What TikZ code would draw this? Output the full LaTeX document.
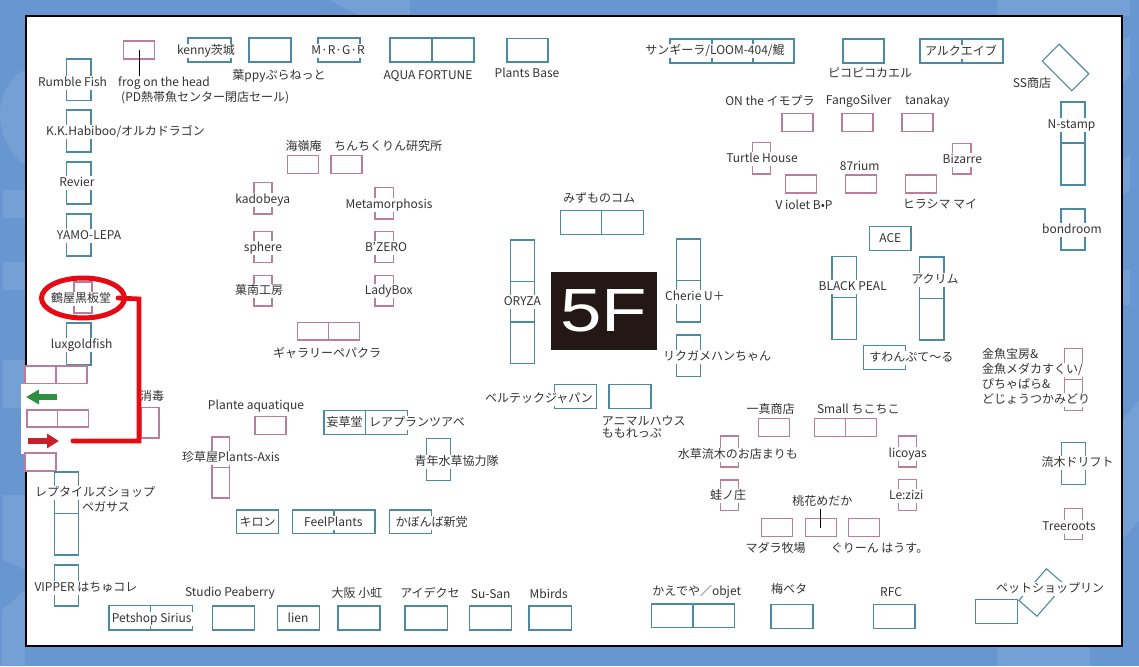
\documentclass[tikz,border=0pt]{standalone}
\usepackage{fontspec}
\setmainfont{Noto Sans CJK JP}
\newfontfamily\bigfont{Liberation Sans}
\usetikzlibrary{shapes.geometric,arrows.meta}
\definecolor{bgblue}{HTML}{6796D0}
\definecolor{bglight}{HTML}{75A0D6}
\definecolor{boothblue}{HTML}{4A8AA3}
\definecolor{boothpink}{HTML}{BC7C9A}
\definecolor{ovalred}{HTML}{E60A14}
\definecolor{exitgreen}{HTML}{2F8F3F}
\definecolor{entryred}{HTML}{C8202A}
\definecolor{signblack}{HTML}{231815}
\tikzset{
  bluebox/.style={draw=boothblue, line width=1.1pt, inner sep=0pt, outer sep=0pt},
  pinkbox/.style={draw=boothpink, line width=1.1pt, inner sep=0pt, outer sep=0pt},
  lbl/.style={fill=white, inner sep=1pt, yshift=-1pt, text=black!80, font=\fontsize{12}{14}\selectfont, text height=9.5pt, text depth=2.5pt},
  lblmulti/.style={inner sep=1pt, yshift=-1pt, text=black!80, font=\fontsize{12}{15}\selectfont, align=left},
  tagline/.style={draw=black, line width=1pt},
  routeline/.style={draw=ovalred, line width=4.8pt, line cap=round},
}
% corners of a booth: style, name, x0, y0, x1, y1
\def\booth(#1,#2,#3,#4,#5,#6){
  \node[#1, minimum width={(#5-#3)*1pt}, minimum height={(#6-#4)*1pt}] (#2) at ({(#3+#5)/2},{(#4+#6)/2}) {};
}
\def\lbl(#1,#2,#3,#4){
  \node[lbl] (#1) at (#2,#3) {#4};
}
\begin{document}
\begin{tikzpicture}[x=1pt,y=-1pt]
\useasboundingbox (0,0) rectangle (1139,666);
\fill[bgblue] (0,0) rectangle (1139,666);
% faint shapes behind the floor
\fill[bglight] (330,0) -- (410,0) -- (410,35) -- (395,35) -- cycle;
\fill[bglight] (3,190) rectangle (25,218);
\fill[bglight] (3,262) rectangle (25,290);
\fill[bglight] (3,360) rectangle (25,408);
\fill[bglight] (3,495) -- (25,495) -- (25,570) -- (3,560) -- cycle;
\fill[bglight] (2,610) -- (25,590) -- (25,666) -- (2,666) -- cycle;
\fill[bglight] (0,110) .. controls (3,90) and (12,75) .. (25,70) -- (25,165) .. controls (5,150) and (0,130) .. (0,110) -- cycle;
\fill[bglight] (997,0) rectangle (1130,16);
\fill[bglight] (997,646) rectangle (1090,666);
\fill[bglight] (1122,40) -- (1130,36) -- (1130,75) -- (1122,85) -- cycle;
\fill[bglight] (1122,160) -- (1130,155) -- (1130,190) -- (1122,195) -- cycle;
\fill[bglight] (1122,270) rectangle (1130,305);
\fill[bglight] (1122,420) -- (1139,400) -- (1139,520) -- (1122,540) -- cycle;
% floor
\draw[fill=white, draw=black, line width=1.6pt] (26,16) rectangle (1122,646);
\fill[white] (21,383.5) rectangle (62,454);
\fill[white] (24,454) rectangle (27,472);
\fill[white] (24,366) rectangle (27,383.5);

% top row
\booth(pinkbox,frogbox,123.5,41,154.5,59)
\booth(bluebox,kennybox,188,38,231,62)
\booth(bluebox,happybox,249,38,291,62)
\booth(bluebox,mrgrbox,318,38,360,62)
\booth(bluebox,aquaA,390,38,432,62)
\booth(bluebox,aquaB,432,38,474,62)
\booth(bluebox,basebox,507,38.5,548,62)
\booth(bluebox,sanA,670,39,712,63)
\booth(bluebox,sanB,712,39,753,63)
\booth(bluebox,sanC,753,39,794,63)
\booth(bluebox,pikobox,843,39,884,63)
\booth(bluebox,arcA,920,39,962,63)
\booth(bluebox,arcB,962,39,1003,63)
\node[bluebox, minimum width=42pt, minimum height=24pt, rotate=-45] (ssbox) at (1065.5,67.5) {};
\booth(bluebox,nstampA,1061,102,1085,143)
\booth(bluebox,nstampB,1061,143,1085,185)
\booth(bluebox,bondbox,1061,209,1085,250)
% left wall
\booth(bluebox,rumblebox,66.5,59,91,100.5)
\booth(bluebox,kkbox,66.5,110,91,152)
\booth(bluebox,revierbox,66.5,162,91,204)
\booth(bluebox,yamobox,66.5,214,91,256)
\booth(pinkbox,tsurubox,74,282,92,313)
\booth(bluebox,luxbox,66.5,323,91,365)
\booth(pinkbox,wallA,25,366,56,383.5)
\booth(pinkbox,wallB,56,366,87,383.5)
\booth(pinkbox,wallC,27,410,57.5,427)
\booth(pinkbox,wallD,57.5,410,88.5,427)
\booth(pinkbox,wallE,25,453,56,471)
\booth(pinkbox,dokubox,141.5,407.5,159,438)
\booth(bluebox,reptA,54.7,472,78.7,513.7)
\booth(bluebox,reptB,54.7,513.7,78.7,555)
\booth(bluebox,vipperbox,54.7,565,78.7,606)
% pink island left
\booth(pinkbox,kaibox,287.3,155.3,318.3,173.3)
\booth(pinkbox,chinbox,331,155.3,362,173.3)
\booth(pinkbox,kadobox,254,182.7,272,214)
\booth(pinkbox,spherebox,254,231.7,272,262.7)
\booth(pinkbox,kanabox,254,275.3,272,306)
\booth(pinkbox,metabox,375,187.7,393.3,219)
\booth(pinkbox,bzerobox,375,231.7,393.3,262.7)
\booth(pinkbox,ladybox,375,275.3,393.3,306)
\booth(pinkbox,galA,297.7,322.3,328.3,340)
\booth(pinkbox,galB,328.3,322.3,359.3,340)
% center
\booth(bluebox,mizuA,560.3,210.3,601.7,234.3)
\booth(bluebox,mizuB,601.7,210.3,643.3,234.3)
\booth(bluebox,oryzaA,510.3,240,534.7,281.7)
\booth(bluebox,oryzaB,510.3,281.7,534.7,322)
\booth(bluebox,oryzaC,510.3,322,534.7,363.3)
\booth(bluebox,cherieA,676.3,239,700.3,280.7)
\booth(bluebox,cherieB,676.3,280.7,700.3,322)
\booth(bluebox,rikuBox,676.3,335,700.3,376.7)
\booth(bluebox,veltbox,554.7,384.3,596.3,408.3)
\booth(bluebox,animalbox,609,384.3,651,408.3)
\node[fill=signblack, minimum width=106pt, minimum height=78.6pt, inner sep=0pt, text=white, font=\bigfont\fontsize{61}{61}\selectfont] (floorno) at (604,311) {\scalebox{1.22}[1]{5F}};
% lower left island
\booth(pinkbox,planteBox,255,416.6,286,434.6)
\booth(pinkbox,axisA,212,437,229.6,467.7)
\booth(pinkbox,axisB,212,467.7,229.6,498)
\booth(bluebox,myoA,324,410.3,365.7,434.3)
\booth(bluebox,myoB,365.7,410.3,407.3,434.3)
\booth(bluebox,seiBox,426.3,438.3,450.7,480.3)
\booth(bluebox,kironbox,236.7,510,278.3,533.7)
\booth(bluebox,feelA,292.3,510,334,533.7)
\booth(bluebox,feelB,334,510,375,533.7)
\booth(bluebox,kabobox,389.7,510,431.7,533.7)
% bottom row
\booth(bluebox,sirA,109,605.7,150.7,630)
\booth(bluebox,sirB,150.7,605.7,192.3,630)
\booth(bluebox,peabox,212.3,606,254.3,630)
\booth(bluebox,lienbox,277.7,606,319.3,630)
\booth(bluebox,osakabox,338,606,380,630)
\booth(bluebox,ideBox,405,606,447.3,630)
\booth(bluebox,susanbox,469.3,606,511.3,630)
\booth(bluebox,mbirdbox,529,606,571.3,630)
\booth(bluebox,kaeA,651.3,604,693,627.7)
\booth(bluebox,kaeB,693,604,734.7,627.7)
\booth(bluebox,umebox,771,604.3,813,628.3)
\booth(bluebox,rfcbox,873.3,604.3,915,628.3)
\booth(bluebox,purinA,975.7,599.3,1017.7,623.3)
\node[bluebox, minimum width=42pt, minimum height=24pt, rotate=49] (purinB) at (1041.7,592.5) {};
% pink island right
\booth(pinkbox,imoBox,782,113.3,813,131.3)
\booth(pinkbox,fangoBox,842,113.3,873,131.3)
\booth(pinkbox,tanaBox,902,113.3,933,131.3)
\booth(pinkbox,turtleBox,752.7,142.7,770.7,174)
\booth(pinkbox,bizBox,952.7,143.3,971,174)
\booth(pinkbox,violetBox,785.3,175,816.3,193)
\booth(pinkbox,riumBox,845.3,175,876.7,193)
\booth(pinkbox,hiraBox,905.3,175,936.3,193)
% right island
\booth(bluebox,acebox,869.3,226.7,911,250.7)
\booth(bluebox,blackA,832,256.3,856.3,297.7)
\booth(bluebox,blackB,832,297.7,856.3,339.3)
\booth(bluebox,acrylA,919.7,257,944,298.3)
\booth(bluebox,acrylB,919.7,298.3,944,340)
\booth(bluebox,swampbox,863.7,345.3,905.7,369.3)
\booth(pinkbox,kinA,1064.7,348.7,1082.7,379.7)
\booth(pinkbox,kinB,1064.7,379.7,1082.7,410.3)
\booth(bluebox,driftbox,1061.3,442.7,1085.7,484.7)
\booth(pinkbox,treebox,1064.3,508.3,1082.7,539.3)
\booth(pinkbox,ichibox,758.3,418.7,789.3,436.7)
\booth(pinkbox,smallA,814.7,418.7,845.7,436.7)
\booth(pinkbox,smallB,845.7,418.7,876.3,436.7)
\booth(pinkbox,mizukiBox,720.7,436,738.7,467)
\booth(pinkbox,kaeruBox,720.7,480,738.7,510.7)
\booth(pinkbox,licoBox,898.3,436,916.7,467)
\booth(pinkbox,leziBox,898.3,479.7,916.7,510.7)
\booth(pinkbox,madaBox,761.7,518.3,792.7,536.7)
\booth(pinkbox,momoBox,805.3,518.3,836.3,536.7)
\booth(pinkbox,greenBox,848.3,518.3,879.3,536.7)

% labels
\lbl(kennylbl,206,50,kenny茨城)
\lbl(happylbl,279,75,葉ppyぷらねっと)
\lbl(mrgrlbl,338,50,M·R·G·R)
\lbl(aqualbl,428,75,AQUA FORTUNE)
\lbl(baselbl,527,73.5,Plants Base)
\lbl(sanlbl,715,50,サンギーラ/LOOM-404/鯤)
\lbl(pikolbl,870,73.5,ピコピコカエル)
\lbl(arclbl,961,51,アルクエイブ)
\lbl(sslbl,1032,83,SS商店)
\lbl(nstamplbl,1071.5,124,N-stamp)
\lbl(bondlbl,1072,229,bondroom)
\lbl(rumblelbl,72.5,82,Rumble Fish)
\lbl(kklbl,125.5,131,K.K.Habiboo/オルカドラゴン)
\lbl(revierlbl,77,182,Revier)
\lbl(yamolbl,89,234.5,YAMO-LEPA)
\lbl(tsurulbl,81,298,鶴屋黒板堂)
\lbl(luxlbl,81.7,344,luxgoldfish)
\lbl(dokulbl,152,396,消毒)
\lbl(reptlbl,95,492,レプタイルズショップ)
\lbl(pegalbl,106,507,ペガサス)
\lbl(vipperlbl,86,587,VIPPER はちゅコレ)
\lbl(kailbl,303.7,145.7,海嶺庵)
\lbl(chinlbl,388,146,ちんちくりん研究所)
\lbl(kadolbl,262.7,199,kadobeya)
\lbl(spherelbl,263,247,sphere)
\lbl(kanalbl,259,290,菓南工房)
\lbl(metalbl,389,203.5,Metamorphosis)
\lbl(bzerolbl,386,246.5,B'ZERO)
\lbl(ladylbl,388.7,290,LadyBox)
\lbl(gallbl,327,352.7,ギャラリーペパクラ)
\lbl(mizulbl,599,198,みずものコム)
\lbl(oryzalbl,522.3,301,ORYZA)
\lbl(cherielbl,695,296.3,Cherie U＋)
\lbl(rikulbl,717,355.7,リクガメハンちゃん)
\lbl(veltlbl,539,398.3,ベルテックジャパン)
\node[lblmulti, anchor=west] (animallbl) at (600.7,426.3) {アニマルハウス\\[-3pt]ももれっぷ};
\lbl(plantelbl,256,405,Plante aquatique)
\lbl(axislbl,231,456.7,珍草屋Plants-Axis)
\lbl(myolbl,344.7,422.3,妄草堂)
\lbl(rarelbl,417,422,レアプランツアベ)
\lbl(seilbl,456.7,461.3,青年水草協力隊)
\lbl(kironlbl,257.5,522,キロン)
\lbl(feellbl,333.3,522,FeelPlants)
\lbl(kabolbl,431.7,522,かぼんば新党)
\lbl(sirlbl,151.7,617.7,Petshop Sirius)
\lbl(pealbl,230,592,Studio Peaberry)
\lbl(lienlbl,298,617.5,lien)
\lbl(osakalbl,357,593,大阪 小虹)
\lbl(idelbl,430,593,アイデクセ)
\lbl(susanlbl,490.7,593.5,Su-San)
\lbl(mbirdlbl,548.7,593.5,Mbirds)
\lbl(kaelbl,696.7,591.3,かえでや／objet)
\lbl(umelbl,789,589,梅ベタ)
\lbl(rfclbl,891,592.3,RFC)
\lbl(purinlbl,1050,587.7,ペットショップリン)
\lbl(imolbl,770,100.7,ON the イモプラ)
\lbl(fangolbl,858.7,100,FangoSilver)
\lbl(tanalbl,927.3,100,tanakay)
\lbl(turtlelbl,762,157.7,Turtle House)
\lbl(bizlbl,962.3,158.7,Bizarre)
\lbl(riumlbl,859.7,165.7,87rium)
\lbl(violetlbl,804,204.5,V iolet B•P)
\lbl(hiralbl,940,203.5,ヒラシマ マイ)
\lbl(acelbl,890.3,238.3,ACE)
\lbl(blacklbl,852.7,286,BLACK PEAL)
\lbl(acryllbl,935,278.5,アクリム)
\lbl(swamplbl,911.3,357,すわんぷて〜る)
\node[lbl, anchor=west] (kinlblA) at (981,354) {金魚宝房\&};
\node[lbl, anchor=west] (kinlblB) at (981,369.3) {金魚メダカすくい/};
\node[lbl, anchor=west] (kinlblC) at (981,384) {ぴちゃぱら\&};
\node[lbl, anchor=west] (kinlblD) at (981,399) {どじょうつかみどり};
\lbl(driftlbl,1077.7,462.3,流木ドリフト)
\lbl(treelbl,1069,526,Treeroots)
\lbl(ichilbl,770.5,408.7,一真商店)
\lbl(smalllbl,858.3,408.7,Small ちこちこ)
\lbl(mizukilbl,737.8,454,水草流木のお店まりも)
\lbl(kaerulbl,728,495,蛙ノ庄)
\lbl(licolbl,907.7,452.7,licoyas)
\lbl(lezilbl,906.3,495,Le:zizi)
\lbl(momolbl,822.3,500.7,桃花めだか)
\lbl(madalbl,775.5,548.3,マダラ牧場)
\lbl(greenlbl,879.5,548.3,ぐりーん はうす。)
\node[lblmulti, anchor=west] (froglbl) at (117,89.5) {frog on the head\\\hspace*{3pt}(PD熱帯魚センター閉店セール)};
\draw[tagline] (frogbox.center) -- (froglbl.north -| frogbox.center);
\draw[tagline] (momolbl.south -| momoBox.center) -- (momoBox.center);

% route to the booth
\node[ellipse, draw=ovalred, line width=5pt, minimum width=83pt, minimum height=40pt, inner sep=0pt] (oval) at (83,298) {};
\coordinate (routetail) at (73,441);
\coordinate (routebend) at (139,299);
\draw[routeline] (routetail) -| (routebend) -- ([xshift=-9pt]oval.east);
% doors
\coordinate (outstart) at (57,397);
\coordinate (outend) at (26,397);
\coordinate (instart) at (28,441);
\coordinate (inend) at (59,441);
\draw[line width=6pt, draw=exitgreen, -{Triangle[length=13pt,width=14pt]}] (outstart) -- (outend);
\draw[line width=6pt, draw=entryred, -{Triangle[length=12pt,width=14pt]}] (instart) -- (inend);
\end{tikzpicture}
\end{document}
